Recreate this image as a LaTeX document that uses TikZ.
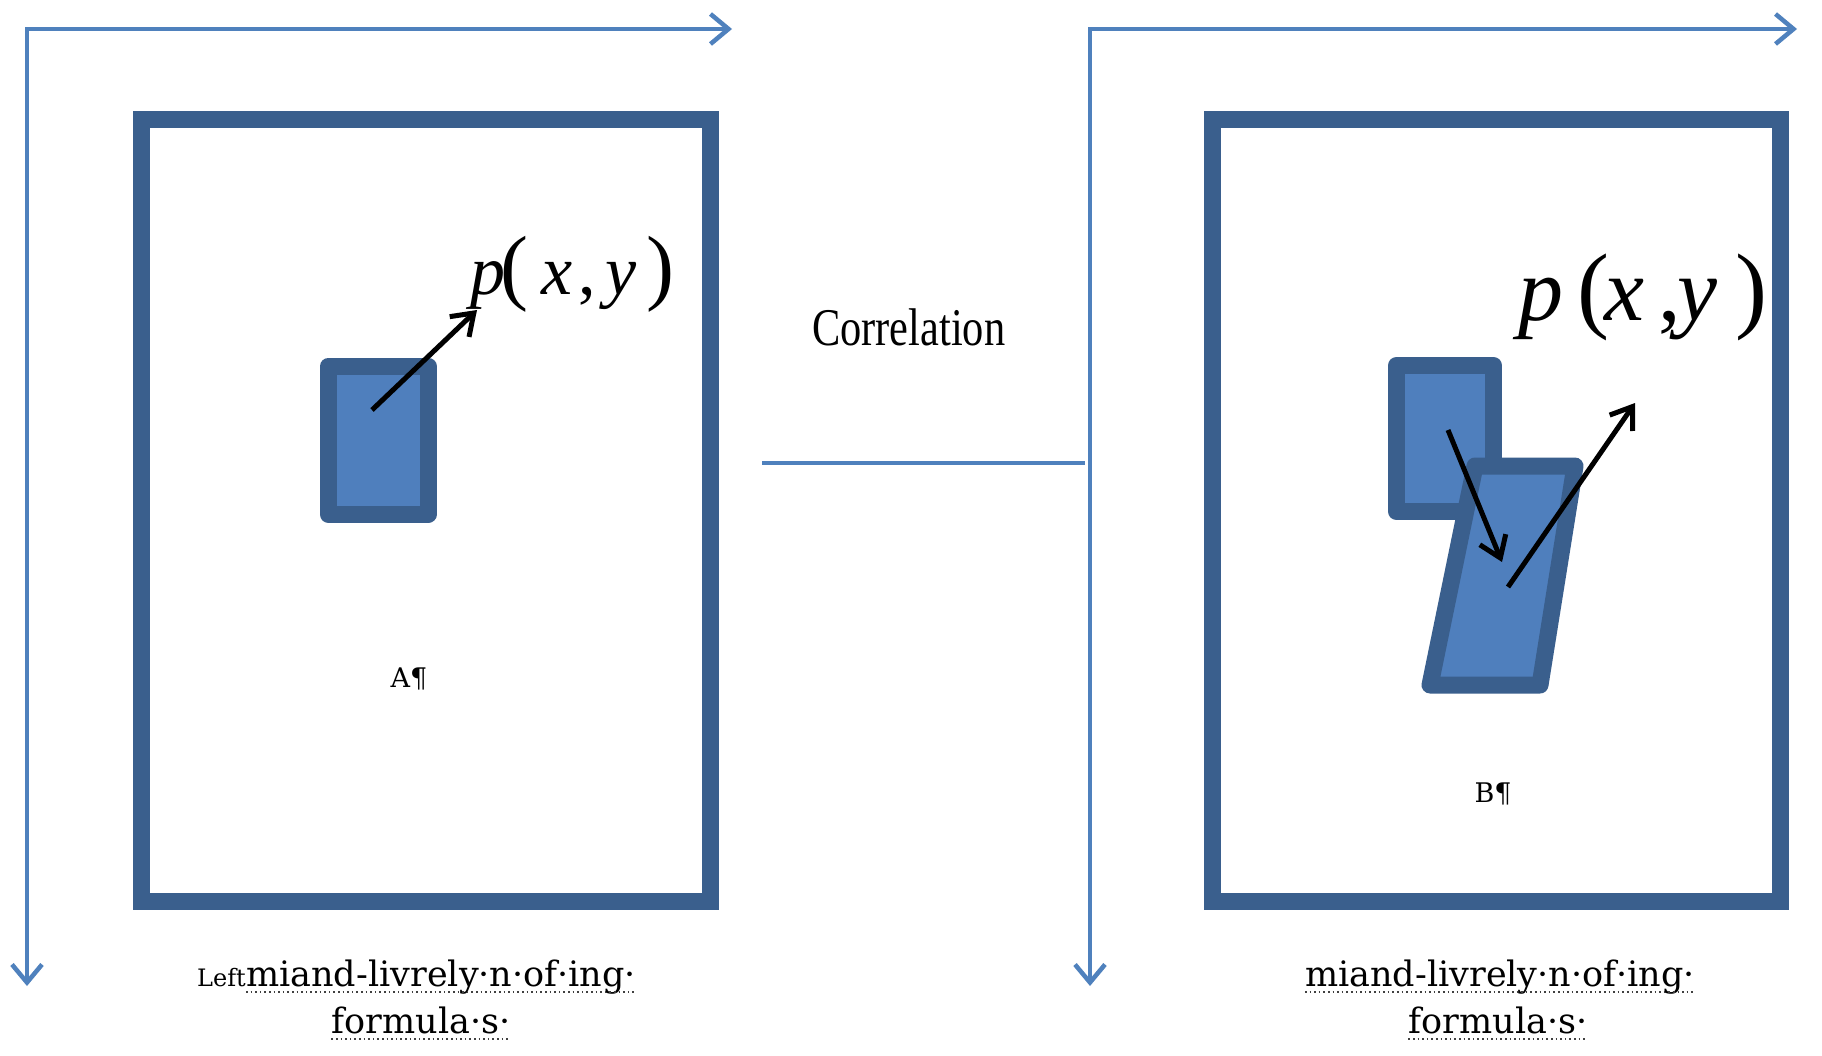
\documentclass[tikz,border=0pt]{standalone}
\usepackage{fontspec}
\setmainfont{DejaVu Serif}
\newfontfamily\timesf{Liberation Serif}
\usetikzlibrary{arrows.meta}
\definecolor{axisblue}{HTML}{4F81BD}
\definecolor{framedark}{HTML}{3A5F8D}
\definecolor{fillblue}{HTML}{4F7FBD}
\begin{document}
\begin{tikzpicture}[x=1pt,y=-1pt,
  axisline/.style={draw=axisblue,line width=4.5pt,line cap=rect,-{Straight Barb[length=18pt,width=30pt]}},
  frm/.style={draw=framedark,line width=17pt},
  blk/.style={fill=fillblue,draw=framedark,line width=17pt,line join=round},
  vec/.style={draw=black,line width=5pt,-{Straight Barb[length=20pt,width=28pt]}},
  capt/.style={font=\fontsize{35}{35}\selectfont, inner sep=0pt},
  lbl/.style={font=\fontsize{27}{27}\selectfont, inner sep=0pt, anchor=base},
  dotl/.style={draw=black!75,line width=1.6pt,dash pattern=on 1.6pt off 3pt},
  pxy/.style={inner sep=0pt, anchor=base west}
]
\useasboundingbox (0,0) rectangle (1822,1056);
\fill[white] (0,0) rectangle (1822,1056);

% axes
\coordinate (LO) at (27,29);
\coordinate (LX) at (732,29);
\coordinate (LY) at (27,986);
\coordinate (RO) at (1090,29);
\coordinate (RX) at (1797,29);
\coordinate (RY) at (1090,986);
\draw[axisline] (LO) -- (LX);
\draw[axisline] (LO) -- (LY);
\draw[axisline] (RO) -- (RX);
\draw[axisline] (RO) -- (RY);

% frames
\draw[frm] (141,120) rectangle (710,901);
\draw[frm] (1212,120) rectangle (1780,901);

% blocks
\draw[blk] (328.5,366) rectangle (428,514.5);
\draw[blk] (1396.5,365.5) rectangle (1493.5,511.5);
\draw[blk] (1475,466) -- (1575,466) -- (1540,685) -- (1430,685) -- cycle;

% correlation link
\coordinate (M1) at (762,463);
\coordinate (M2) at (1085,463);
\draw[draw=axisblue,line width=4.5pt] (M1) -- (M2);
\node[pxy] (corr) at (812,345) {\timesf\fontsize{53}{53}\selectfont\scalebox{0.8}[1]{Correlation}};

% vectors
\coordinate (a1s) at (372,410);
\coordinate (a1e) at (477,310);
\coordinate (a2s) at (1448,430);
\coordinate (a2e) at (1502,562);
\coordinate (a3s) at (1508,587);
\coordinate (a3e) at (1635,403);
\draw[vec] (a1s) -- (a1e);
\draw[vec] (a2s) -- (a2e);
\draw[vec] (a3s) -- (a3e);

% p(x,y) labels
\node[pxy] (pL) at (470,295) {\timesf\fontsize{70}{70}\selectfont\textit{p}\kern-5pt{\fontsize{84}{84}\selectfont(}\kern13pt\textit{x}\kern6pt,\kern10pt\textit{y}\kern10pt{\fontsize{84}{84}\selectfont)}};
\node[pxy] (pR) at (1518,320) {\timesf\fontsize{90}{90}\selectfont\textit{p}\kern14pt{\fontsize{96}{96}\selectfont(}\kern-5pt\textit{x}\kern14pt,\kern-3pt\textit{y}\kern18pt{\fontsize{96}{96}\selectfont)}};

% A, B labels
\node[lbl] (lA) at (409,687) {A¶};
\node[lbl] (lB) at (1493,802) {B¶};

% captions left
\node[capt, anchor=base east, font=\fontsize{24}{24}\selectfont] (cL0) at (246,986) {Left};
\node[capt, anchor=base west] (cL1) at (246,986) {miand-livrely·n·of·ing·};
\node[capt, anchor=base] (cL2) at (421,1033) {formula·s·};
\draw[dotl] ([yshift=-6pt]cL1.base west) -- ([yshift=-6pt]cL1.base east);
\draw[dotl] ([yshift=-6pt]cL2.base west) -- ([yshift=-6pt]cL2.base east);

% captions right
\node[capt, anchor=base] (cR1) at (1500,986) {miand-livrely·n·of·ing·};
\node[capt, anchor=base] (cR2) at (1498,1033) {formula·s·};
\draw[dotl] ([yshift=-6pt]cR1.base west) -- ([yshift=-6pt]cR1.base east);
\draw[dotl] ([yshift=-6pt]cR2.base west) -- ([yshift=-6pt]cR2.base east);
\end{tikzpicture}
\end{document}
